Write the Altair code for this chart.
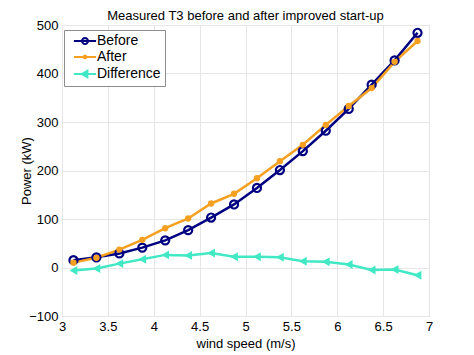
import math
import altair as alt
import pandas as pd

# ---- data ----
wind = [3.125, 3.375, 3.625, 3.875, 4.125, 4.375, 4.625, 4.875,
        5.125, 5.375, 5.625, 5.875, 6.125, 6.375, 6.625, 6.875]
before = [15, 21, 29, 41, 56, 77, 103, 130, 164, 201, 240, 282, 327, 377, 427, 484]
after = [10, 20, 37, 57, 81, 101, 132, 152, 184, 219, 253, 294, 333, 370, 424, 467]
difference = [-6, -2, 8, 17, 26, 25, 30, 22, 22, 21, 13, 12, 6, -5, -4, -16]

series_names = ["Before", "After", "Difference"]
x_ticks = [3, 3.5, 4, 4.5, 5, 5.5, 6, 6.5, 7]
y_ticks = [-100, 0, 100, 200, 300, 400, 500]

colors = ["#000080", "#f5a020", "#40e8c4"]

rows = []
for name, vals in zip(series_names, [before, after, difference]):
    for xv, yv in zip(wind, vals):
        rows.append({"wind": xv, "power": yv, "series": name})
df = pd.DataFrame(rows)

# ---- legend symbols: line segment + marker (custom SVG paths) ----
def poly(r, n=16):
    pts = [(r * math.cos(2 * math.pi * k / n), r * math.sin(2 * math.pi * k / n)) for k in range(n)]
    return "M" + "L".join(f"{px:.3f},{py:.3f}" for px, py in pts) + "Z"

line_seg = "M-1.85,0L1.85,0"
legend_paths = [
    line_seg + poly(0.5),
    line_seg + poly(0.22),
    line_seg + "M-0.55,0L0.4,-0.55L0.4,0.55Z" + "M-0.25,0L0.2,-0.25L0.2,0.25Z",
]

W, H = 367, 291
xs = alt.Scale(domain=[3, 7], nice=False)
ys = alt.Scale(domain=[-100, 500], nice=False)

x_enc = alt.X("wind:Q", scale=xs, axis=alt.Axis(values=x_ticks, format=".1~f",
                                                 title="wind speed (m/s)", labelFlush=False))
y_enc = alt.Y("power:Q", scale=ys, axis=alt.Axis(values=y_ticks, title="Power (kW)",
                                                 labelFlush=False))

base = alt.Chart(df)

legend_cfg = alt.Legend(
    title=None, orient="none", legendX=2, legendY=5,
    strokeColor="#8c8c8c", fillColor="white", padding=4,
    symbolSize=144, symbolOffset=10, symbolStrokeWidth=2, symbolOpacity=1,
    labelOffset=5, rowPadding=2, labelFontSize=14, labelColor="black",
    labelFont="Liberation Sans")

legend_layer = base.mark_point(filled=False, opacity=0, strokeWidth=2).encode(
    x=x_enc, y=y_enc,
    color=alt.Color("series:N", scale=alt.Scale(domain=series_names, range=colors),
                    legend=legend_cfg),
    shape=alt.Shape("series:N", scale=alt.Scale(domain=series_names, range=legend_paths),
                    legend=legend_cfg),
)

lines = base.mark_line(strokeWidth=2.5).encode(
    x=x_enc, y=y_enc,
    color=alt.Color("series:N", scale=alt.Scale(domain=series_names, range=colors), legend=None),
    detail="series:N",
)

pts_before = base.transform_filter(alt.datum.series == "Before").mark_point(
    shape="circle", filled=False, size=65, strokeWidth=2.2, color=colors[0], opacity=1
).encode(x=x_enc, y=y_enc)

pts_after = base.transform_filter(alt.datum.series == "After").mark_point(
    shape="circle", filled=True, size=40, color=colors[1], opacity=1
).encode(x=x_enc, y=y_enc)

pts_diff = base.transform_filter(alt.datum.series == "Difference").mark_point(
    shape="triangle-left", filled=True, size=80, color=colors[2], opacity=1
).encode(x=x_enc, y=y_enc)

chart = alt.layer(legend_layer, lines, pts_before, pts_after, pts_diff).resolve_scale(
    shape="independent", color="independent"
).properties(
    width=W, height=H,
    title=alt.TitleParams("Measured T3 before and after improved start-up",
                          fontSize=13, font="Liberation Sans", fontWeight="normal",
                          color="black", anchor="middle", offset=-4),
    autosize=alt.AutoSizeParams(type="none"),
    padding={"left": 54, "top": 17, "right": 30, "bottom": 38},
).configure_view(
    stroke="#8c8c8c", strokeWidth=1
).configure_axis(
    grid=True, gridColor="#e6e6e6", gridOpacity=1, domain=False, ticks=False,
    labelFont="Liberation Sans", labelFontSize=13, labelColor="black",
    titleFont="Liberation Sans", titleFontSize=13, titleFontWeight="normal", titleColor="black",
    labelPadding=4,
).configure_axisY(titlePadding=-5).configure_axisX(titlePadding=4)

chart.save("out.html", embed_options={"renderer": "svg", "actions": False})
